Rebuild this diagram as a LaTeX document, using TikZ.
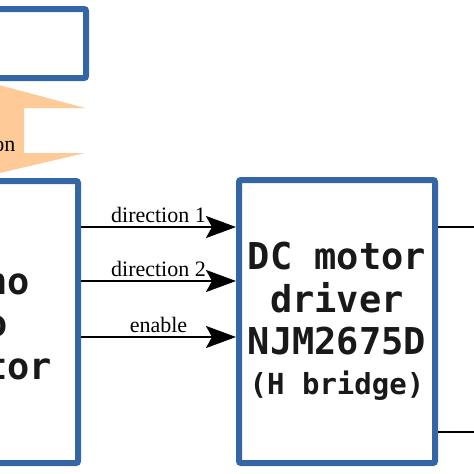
\documentclass[tikz,border=0pt]{standalone}
\usepackage{fontspec}
\setmainfont{Liberation Serif}
\newfontfamily\monofam{DejaVu Sans Mono}
\usetikzlibrary{arrows.meta}
\definecolor{boxblue}{HTML}{3465A4}
\definecolor{pale}{HTML}{FDCA98}
\begin{document}
\begin{tikzpicture}[x=1pt,y=-1pt,
  blk/.style={draw=boxblue, line width=6pt, rounded corners=2pt, inner sep=0pt, fill=white},
  blktext/.style={font=\monofam\bfseries\fontsize{37}{42.5}\selectfont, align=center, text=black!90},
  sig/.style={line width=2pt, -{Stealth[length=30pt,width=22pt,inset=6pt]}},
  wire/.style={line width=2pt},
  lbl/.style={font=\fontsize{22}{24}\selectfont, anchor=base, yshift=5pt, inner sep=0pt}]
\useasboundingbox (0,0) rectangle (474,474);
\clip (0,0) rectangle (474,474);
% orange double arrow
\fill[pale] (-40,74.6) -- (85,108) -- (24,108) -- (24,153) -- (85,153) -- (-40,182.4) -- cycle;
\node[font=\fontsize{22}{24}\selectfont, anchor=base east, inner sep=0pt] (comm) at (15.5,151) {communication};
% boxes
\node[blk, minimum width=286pt, minimum height=69pt] (pc) at (-57,43.5) {};
\node[blk, blktext, minimum width=252pt, minimum height=282pt] (mcu) at (-48,322) {Arduino\\Micro\\simulator};
\node[blk, blktext, minimum width=196pt, minimum height=283pt] (drv) at (337,321.5)
  {DC motor\\driver\\NJM2675D\\[-3pt]{\fontsize{29}{40}\selectfont (H bridge)}};
% connector levels
\coordinate (y1) at (0,227);
\coordinate (y2) at (0,281);
\coordinate (y3) at (0,337);
\coordinate (out1) at (480,227);
\coordinate (out2) at (480,432);
\draw[sig] (mcu.east |- y1) -- node[lbl] (l1) {direction 1} (drv.west |- y1);
\draw[sig] (mcu.east |- y2) -- node[lbl] (l2) {direction 2} (drv.west |- y2);
\draw[sig] (mcu.east |- y3) -- node[lbl] (l3) {enable} (drv.west |- y3);
\draw[wire] (drv.east |- out1) -- (out1);
\draw[wire] (drv.east |- out2) -- (out2);
\end{tikzpicture}
\end{document}
